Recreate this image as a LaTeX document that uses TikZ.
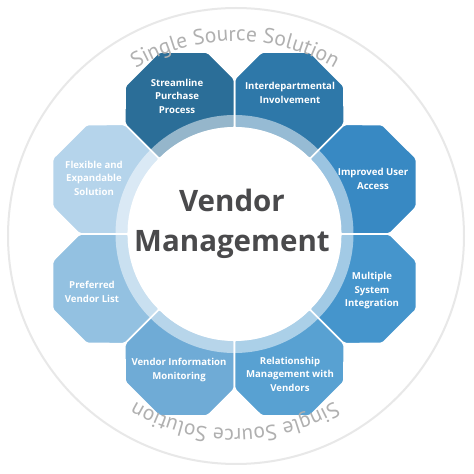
\documentclass[tikz,border=0pt]{standalone}
\usepackage{fontspec}
\setmainfont{Open Sans}
\newfontfamily\arcfont{PT Sans}
\usetikzlibrary{decorations.text}
\definecolor{cImp}{HTML}{3889C3}
\definecolor{cInt}{HTML}{2E78A9}
\definecolor{cStr}{HTML}{2B6E98}
\definecolor{cFle}{HTML}{B5D4EB}
\definecolor{cPre}{HTML}{93C1E1}
\definecolor{cVen}{HTML}{6FABD6}
\definecolor{cRel}{HTML}{58A1D2}
\definecolor{cMul}{HTML}{4595CC}
\definecolor{arcgray}{HTML}{B0B0B0}
\definecolor{titlegray}{HTML}{4A4A4C}
\definecolor{rimgray}{HTML}{E8E8E8}
\begin{document}
\begin{tikzpicture}[x=1pt,y=1pt,
  petal/.style={draw=white, line width=1.6pt, rounded corners=2pt},
  ptext/.style={text=white, align=center, font=\bfseries\fontsize{9.6}{13.5}\selectfont},
  title/.style={anchor=base, text=titlegray, font=\bfseries\fontsize{29.5}{30}\selectfont},
  arctext/.style={decorate, decoration={text along path, text align=center, text color=arcgray, text={|\arcfont\fontsize{21.5}{21.5}\selectfont|Single Source Solution}}}]
\useasboundingbox (0,0) rectangle (474,474);
\fill[white] (0,0) rectangle (474,474);
\coordinate (O) at (236,238);
\coordinate (C) at (234.5,240);
\coordinate (T) at (235,239);
\path[fill=white, draw=rimgray, line width=2pt] (O) circle[radius=228];
\foreach \a/\c in {22.5/cImp, 67.5/cInt, 112.5/cStr, 157.5/cFle, 202.5/cPre, 247.5/cVen, 292.5/cRel, 337.5/cMul} {
  \begin{scope}[shift={(C)}, rotate=\a]
    \path[petal, fill=\c] (143.2,59.3) -- (178.5,44.6) -- (197,0) -- (178.5,-44.6) -- (143.2,-59.3) -- (-22.5:106) arc[start angle=-22.5, end angle=22.5, radius=106] -- cycle;
  \end{scope}
}
\fill[white, fill opacity=0.5, even odd rule] (C) circle[radius=119] (C) circle[radius=107];
\fill[white] (C) circle[radius=107];
\node[ptext] (str) at (177,378) {Streamline\\Purchase\\Process};
\node[ptext] (int) at (290,381) {Interdepartmental\\Involvement};
\node[ptext] (imp) at (373,295) {Improved User\\Access};
\node[ptext] (mul) at (372,183) {Multiple\\System\\Integration};
\node[ptext] (rel) at (290,100) {Relationship\\Management with\\Vendors};
\node[ptext] (ven) at (179,104) {Vendor Information\\Monitoring};
\node[ptext] (pre) at (92,182) {Preferred\\Vendor List};
\node[ptext] (fle) at (94,296) {Flexible and\\Expandable\\Solution};
\node[title] (ven1) at (232,262) {Vendor};
\node[title] (man1) at (232,222) {Management};
\path[arctext] ([shift={(125:194)}]T) arc[start angle=125, end angle=55, radius=194];
\path[arctext] ([shift={(-55:194)}]T) arc[start angle=-55, end angle=-125, radius=194];
\end{tikzpicture}
\end{document}
